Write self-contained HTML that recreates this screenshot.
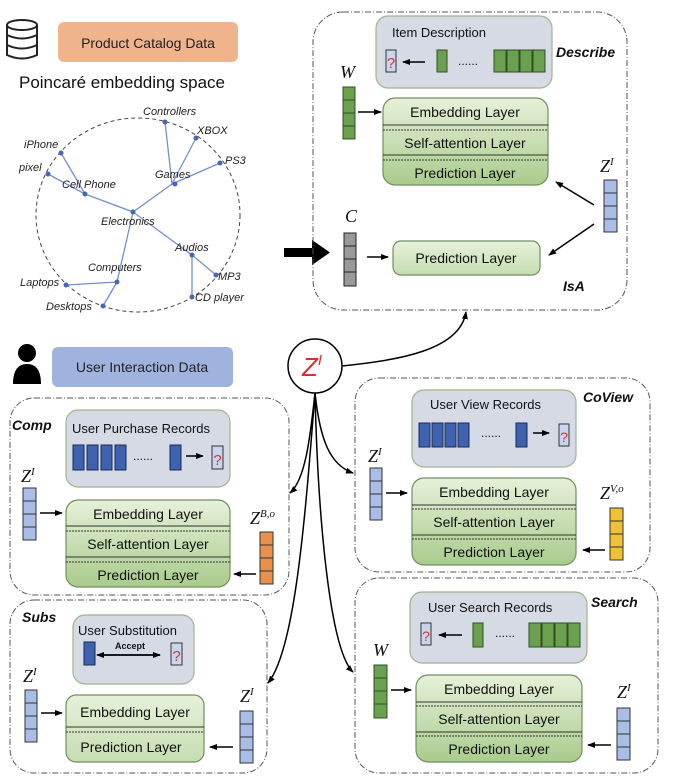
<!DOCTYPE html>
<html><head><meta charset="utf-8"><style>
html,body{margin:0;padding:0;background:#fff;}
svg{display:block;}
text{font-family:"Liberation Sans",sans-serif;}
.it{font-style:italic;font-size:11px;fill:#222;}
.lay{font-size:14px;fill:#111;text-anchor:middle;}
.bi{font-weight:bold;font-style:italic;font-size:14px;fill:#111;}
.z{font-family:"Liberation Serif",serif;font-style:italic;font-size:18px;fill:#111;}
.cont{fill:none;stroke:#555;stroke-width:1;stroke-dasharray:6 2 1 2;}
.gbox{fill:#d6dae4;stroke:#9fb58c;stroke-width:1.2;}
.stk{stroke:#6f8f60;stroke-width:1.2;}
.ln{stroke:#000;stroke-width:1.5;fill:none;}
</style></head><body>
<svg width="675" height="783" viewBox="0 0 675 783" xmlns="http://www.w3.org/2000/svg">
<defs>
<linearGradient id="g" x1="0" y1="0" x2="0" y2="1"><stop offset="0" stop-color="#e6f1d9"/><stop offset="1" stop-color="#a9cb8c"/></linearGradient>
<linearGradient id="gb" x1="0" y1="0" x2="0" y2="1"><stop offset="0" stop-color="#e6f1d9"/><stop offset="1" stop-color="#c5ddb0"/></linearGradient>
<marker id="a" markerWidth="8" markerHeight="8" refX="7" refY="4" orient="auto" markerUnits="userSpaceOnUse"><path d="M0,1 L8,4 L0,7 z" fill="#000"/></marker>
</defs>

<!-- DB icon -->
<g fill="none" stroke="#222" stroke-width="2">
<ellipse cx="22" cy="25" rx="15" ry="5"/>
<path d="M7,25 V55 Q22,62 37,55 V25 M7,35 Q22,42 37,35 M7,45 Q22,52 37,45"/>
</g>
<rect x="58" y="22" width="180" height="40" rx="6" fill="#efb48c"/>
<text x="148" y="48" font-size="14" text-anchor="middle" fill="#222">Product  Catalog  Data</text>
<text x="122" y="88" font-size="17" text-anchor="middle" fill="#111">Poincaré embedding space</text>

<!-- Poincare -->
<ellipse cx="138" cy="215" rx="102" ry="97" fill="none" stroke="#444" stroke-dasharray="4 3"/>
<g stroke="#7390cc" stroke-width="1.3" fill="none">
<path d="M165,122 L172,184 L196,138 M172,184 L220,163 M172,184 L133,212 L85,194 L61,153 M85,194 L48,174 M133,212 L192,255 L216,275 M192,255 L192,297 M133,212 L117,282 L66,285 M117,282 L103,306"/>
</g>
<g fill="#4a66b0">
<circle cx="165" cy="122" r="2.5"/><circle cx="196" cy="138" r="2.5"/><circle cx="220" cy="163" r="2.5"/><circle cx="175" cy="184" r="2.5"/><circle cx="61" cy="153" r="2.5"/><circle cx="48" cy="174" r="2.5"/><circle cx="85" cy="194" r="2.5"/><circle cx="133" cy="212" r="2.5"/><circle cx="192" cy="255" r="2.5"/><circle cx="216" cy="275" r="2.5"/><circle cx="192" cy="297" r="2.5"/><circle cx="117" cy="282" r="2.5"/><circle cx="66" cy="285" r="2.5"/><circle cx="103" cy="306" r="2.5"/>
</g>
<text class="it" x="143" y="115">Controllers</text>
<text class="it" x="197" y="134">XBOX</text>
<text class="it" x="225" y="164">PS3</text>
<text class="it" x="155" y="178">Games</text>
<text class="it" x="24" y="148">iPhone</text>
<text class="it" x="19" y="171">pixel</text>
<text class="it" x="62" y="188">Cell Phone</text>
<text class="it" x="101" y="225">Electronics</text>
<text class="it" x="175" y="251">Audios</text>
<text class="it" x="218" y="280">MP3</text>
<text class="it" x="195" y="301">CD player</text>
<text class="it" x="88" y="271">Computers</text>
<text class="it" x="20" y="286">Laptops</text>
<text class="it" x="46" y="310">Desktops</text>

<!-- big arrow -->
<rect x="284" y="248" width="30" height="9" fill="#000"/>
<path d="M312,240 L330,252.5 L312,265 z" fill="#000"/>

<!-- top right container -->
<rect class="cont" x="313" y="12" width="314" height="298" rx="30"/>
<rect class="gbox" x="376" y="16" width="176" height="72" rx="12"/>
<text x="392" y="37" font-size="13" fill="#111">Item  Description</text>
<rect x="386" y="50" width="10" height="22" fill="#c9d4ef" stroke="#333"/><text x="391" y="68" font-size="15" fill="#e03030" text-anchor="middle">?</text>
<line class="ln" x1="425" y1="62" x2="403" y2="62" marker-end="url(#a)"/>
<rect x="437" y="50" width="10" height="22" fill="#6aa050" stroke="#2f4f20"/>
<text x="458" y="65" font-size="12" fill="#111">......</text>
<g fill="#6aa050" stroke="#2f4f20"><rect x="494" y="50" width="12" height="22"/><rect x="507" y="50" width="12" height="22"/><rect x="520" y="50" width="12" height="22"/><rect x="533" y="50" width="12" height="22"/></g>
<text class="bi" x="556" y="57">Describe</text>
<text class="z" x="340" y="78">W</text>
<g fill="#6aa050" stroke="#2f4f20"><rect x="343" y="87" width="12" height="13"/><rect x="343" y="100" width="12" height="13"/><rect x="343" y="113" width="12" height="13"/><rect x="343" y="126" width="12" height="13"/></g>
<line class="ln" x1="358" y1="112" x2="381" y2="112" marker-end="url(#a)"/>
<rect class="stk" x="383" y="98" width="165" height="87" rx="12" fill="url(#g)"/>
<g stroke="#333"><line x1="383" y1="125" x2="548" y2="125"/><line x1="383" y1="130" x2="548" y2="130" stroke-dasharray="2 1"/><line x1="383" y1="155" x2="548" y2="155"/><line x1="383" y1="160" x2="548" y2="160" stroke-dasharray="2 1"/></g>
<text class="lay" x="465" y="117">Embedding Layer</text>
<text class="lay" x="465" y="148">Self-attention Layer</text>
<text class="lay" x="465" y="178">Prediction Layer</text>
<text class="z" x="600" y="172">Z<tspan font-size="11" dy="-7">I</tspan></text>
<g fill="#a9bde6" stroke="#333"><rect x="604" y="180" width="13" height="13"/><rect x="604" y="193" width="13" height="13"/><rect x="604" y="206" width="13" height="13"/><rect x="604" y="219" width="13" height="13"/></g>
<line class="ln" x1="594" y1="205" x2="556" y2="182" marker-end="url(#a)"/>
<line class="ln" x1="594" y1="224" x2="549" y2="255" marker-end="url(#a)"/>
<text class="z" x="345" y="222">C</text>
<g fill="#999" stroke="#222"><rect x="344" y="233" width="12" height="13"/><rect x="344" y="246" width="12" height="13"/><rect x="344" y="259" width="12" height="13"/><rect x="344" y="272" width="12" height="14"/></g>
<line class="ln" x1="367" y1="257" x2="388" y2="257" marker-end="url(#a)"/>
<rect class="stk" x="393" y="241" width="147" height="34" rx="8" fill="url(#gb)"/>
<text class="lay" x="466" y="263" font-size="15">Prediction Layer</text>
<text class="bi" x="563" y="291">IsA</text>

<!-- User interaction -->
<circle cx="27" cy="353" r="9" fill="#000"/>
<path d="M13,384 Q13,364 27,364 Q41,364 41,384 z" fill="#000"/>
<rect x="52" y="347" width="181" height="40" rx="6" fill="#9fb3de"/>
<text x="142" y="372" font-size="14" text-anchor="middle" fill="#222">User  Interaction  Data</text>

<!-- Z circle + curves -->
<path class="ln" d="M342,366 C400,360 460,350 466,312" marker-end="url(#a)"/>
<path class="ln" d="M315,393 C310,440 305,480 290,493" marker-end="url(#a)"/>
<path class="ln" d="M315,393 C305,520 295,650 268,683" marker-end="url(#a)"/>
<path class="ln" d="M315,393 C320,440 330,465 353,473" marker-end="url(#a)"/>
<path class="ln" d="M315,393 C318,520 330,650 353,672" marker-end="url(#a)"/>
<circle cx="315" cy="366" r="27" fill="#fff" stroke="#000" stroke-width="1.5"/>
<text x="312" y="376" font-family="Liberation Serif,serif" font-style="italic" font-size="26" fill="#d83030" text-anchor="middle">Z<tspan font-size="15" dy="-11">I</tspan></text>

<!-- Comp -->
<rect class="cont" x="10" y="398" width="279" height="197" rx="24"/>
<text class="bi" x="12" y="430">Comp</text>
<rect class="gbox" x="66" y="410" width="164" height="77" rx="12"/>
<text x="72" y="433" font-size="13" fill="#111">User  Purchase  Records</text>
<g fill="#3f62b0" stroke="#1a2a55"><rect x="73" y="445" width="11" height="25"/><rect x="87" y="445" width="11" height="25"/><rect x="101" y="445" width="11" height="25"/><rect x="115" y="445" width="11" height="25"/><rect x="170" y="445" width="11" height="25"/></g>
<text x="133" y="460" font-size="12" fill="#111">......</text>
<line class="ln" x1="186" y1="456" x2="203" y2="456" marker-end="url(#a)"/>
<rect x="212" y="446" width="11" height="23" fill="#c9d4ef" stroke="#333"/><text x="217.5" y="465" font-size="15" fill="#e03030" text-anchor="middle">?</text>
<text class="z" x="21" y="482">Z<tspan font-size="11" dy="-7">I</tspan></text>
<g fill="#a9bde6" stroke="#333"><rect x="23" y="488" width="13" height="13"/><rect x="23" y="501" width="13" height="13"/><rect x="23" y="514" width="13" height="13"/><rect x="23" y="527" width="13" height="13"/></g>
<line class="ln" x1="40" y1="513" x2="62" y2="513" marker-end="url(#a)"/>
<rect class="stk" x="66" y="500" width="164" height="87" rx="12" fill="url(#g)"/>
<g stroke="#333"><line x1="66" y1="526" x2="230" y2="526"/><line x1="66" y1="531" x2="230" y2="531" stroke-dasharray="2 1"/><line x1="66" y1="557" x2="230" y2="557"/><line x1="66" y1="562" x2="230" y2="562" stroke-dasharray="2 1"/></g>
<text class="lay" x="148" y="519">Embedding Layer</text>
<text class="lay" x="148" y="549">Self-attention Layer</text>
<text class="lay" x="148" y="580">Prediction Layer</text>
<text class="z" x="250" y="524">Z<tspan font-size="11" dy="-7">B,o</tspan></text>
<g fill="#e9904a" stroke="#333"><rect x="260" y="532" width="13" height="13"/><rect x="260" y="545" width="13" height="13"/><rect x="260" y="558" width="13" height="13"/><rect x="260" y="571" width="13" height="13"/></g>
<line class="ln" x1="256" y1="574" x2="234" y2="574" marker-end="url(#a)"/>

<!-- Subs -->
<rect class="cont" x="10" y="600" width="257" height="173" rx="24"/>
<text class="bi" x="22" y="622">Subs</text>
<rect class="gbox" x="73" y="615" width="121" height="69" rx="12"/>
<text x="78" y="635" font-size="13" fill="#111">User  Substitution</text>
<text x="115" y="649" font-size="9" font-weight="bold" fill="#111">Accept</text>
<rect x="84" y="642" width="11" height="23" fill="#3f62b0" stroke="#1a2a55"/>
<rect x="171" y="643" width="11" height="22" fill="#c9d4ef" stroke="#333"/><text x="176.5" y="661" font-size="15" fill="#e03030" text-anchor="middle">?</text>
<line class="ln" x1="104" y1="655" x2="160" y2="655" stroke-width="1.2" marker-end="url(#a)"/>
<line class="ln" x1="160" y1="655" x2="97" y2="655" stroke-width="1.2" marker-end="url(#a)"/>
<text class="z" x="23" y="682">Z<tspan font-size="11" dy="-7">I</tspan></text>
<g fill="#a9bde6" stroke="#333"><rect x="25" y="690" width="12" height="13"/><rect x="25" y="703" width="12" height="13"/><rect x="25" y="716" width="12" height="13"/><rect x="25" y="729" width="12" height="13"/></g>
<line class="ln" x1="41" y1="713" x2="62" y2="713" marker-end="url(#a)"/>
<rect class="stk" x="66" y="695" width="138" height="67" rx="10" fill="url(#gb)"/>
<g stroke="#333"><line x1="66" y1="727" x2="204" y2="727"/><line x1="66" y1="732" x2="204" y2="732" stroke-dasharray="2 1"/></g>
<text class="lay" x="135" y="717">Embedding Layer</text>
<text class="lay" x="131" y="752">Prediction Layer</text>
<text class="z" x="240" y="702">Z<tspan font-size="11" dy="-7">I</tspan></text>
<g fill="#a9bde6" stroke="#333"><rect x="240" y="711" width="13" height="13"/><rect x="240" y="724" width="13" height="13"/><rect x="240" y="737" width="13" height="13"/><rect x="240" y="750" width="13" height="13"/></g>
<line class="ln" x1="233" y1="747" x2="210" y2="747" marker-end="url(#a)"/>

<!-- CoView -->
<rect class="cont" x="355" y="378" width="295" height="194" rx="24"/>
<text class="bi" x="583" y="402">CoView</text>
<rect class="gbox" x="412" y="390" width="164" height="77" rx="12"/>
<text x="430" y="409" font-size="13" fill="#111">User  View  Records</text>
<g fill="#3f62b0" stroke="#1a2a55"><rect x="419" y="423" width="11" height="24"/><rect x="432" y="423" width="11" height="24"/><rect x="445" y="423" width="11" height="24"/><rect x="458" y="423" width="11" height="24"/><rect x="516" y="423" width="11" height="24"/></g>
<text x="481" y="437" font-size="12" fill="#111">......</text>
<line class="ln" x1="533" y1="433" x2="549" y2="433" marker-end="url(#a)"/>
<rect x="559" y="424" width="10" height="22" fill="#c9d4ef" stroke="#333"/><text x="564" y="442" font-size="14" fill="#e03030" text-anchor="middle">?</text>
<text class="z" x="368" y="462">Z<tspan font-size="11" dy="-7">I</tspan></text>
<g fill="#a9bde6" stroke="#333"><rect x="370" y="468" width="12" height="13"/><rect x="370" y="481" width="12" height="13"/><rect x="370" y="494" width="12" height="13"/><rect x="370" y="507" width="12" height="13"/></g>
<line class="ln" x1="386" y1="493" x2="407" y2="493" marker-end="url(#a)"/>
<rect class="stk" x="412" y="478" width="164" height="87" rx="12" fill="url(#g)"/>
<g stroke="#333"><line x1="412" y1="505" x2="576" y2="505"/><line x1="412" y1="509" x2="576" y2="509" stroke-dasharray="2 1"/><line x1="412" y1="535" x2="576" y2="535"/><line x1="412" y1="539" x2="576" y2="539" stroke-dasharray="2 1"/></g>
<text class="lay" x="494" y="497">Embedding Layer</text>
<text class="lay" x="494" y="527">Self-attention Layer</text>
<text class="lay" x="494" y="557">Prediction Layer</text>
<text class="z" x="600" y="499">Z<tspan font-size="11" dy="-7">V,o</tspan></text>
<g fill="#f0c233" stroke="#333"><rect x="610" y="508" width="13" height="13"/><rect x="610" y="521" width="13" height="13"/><rect x="610" y="534" width="13" height="13"/><rect x="610" y="547" width="13" height="13"/></g>
<line class="ln" x1="605" y1="550" x2="583" y2="550" marker-end="url(#a)"/>

<!-- Search -->
<rect class="cont" x="355" y="578" width="303" height="195" rx="24"/>
<text class="bi" x="591" y="607">Search</text>
<rect class="gbox" x="410" y="592" width="177" height="71" rx="12"/>
<text x="428" y="612" font-size="13" fill="#111">User  Search  Records</text>
<rect x="421" y="623" width="10" height="22" fill="#c9d4ef" stroke="#333"/><text x="426" y="641" font-size="14" fill="#e03030" text-anchor="middle">?</text>
<line class="ln" x1="462" y1="635" x2="439" y2="635" marker-end="url(#a)"/>
<rect x="473" y="623" width="10" height="24" fill="#6aa050" stroke="#2f4f20"/>
<text x="495" y="637" font-size="12" fill="#111">......</text>
<g fill="#6aa050" stroke="#2f4f20"><rect x="529" y="623" width="12" height="24"/><rect x="542" y="623" width="12" height="24"/><rect x="555" y="623" width="12" height="24"/><rect x="568" y="623" width="12" height="24"/></g>
<text class="z" x="373" y="656">W</text>
<g fill="#6aa050" stroke="#2f4f20"><rect x="374" y="665" width="13" height="13"/><rect x="374" y="678" width="13" height="13"/><rect x="374" y="691" width="13" height="13"/><rect x="374" y="704" width="13" height="14"/></g>
<line class="ln" x1="391" y1="690" x2="411" y2="690" marker-end="url(#a)"/>
<rect class="stk" x="416" y="675" width="166" height="87" rx="12" fill="url(#g)"/>
<g stroke="#333"><line x1="416" y1="702" x2="582" y2="702"/><line x1="416" y1="706" x2="582" y2="706" stroke-dasharray="2 1"/><line x1="416" y1="732" x2="582" y2="732"/><line x1="416" y1="736" x2="582" y2="736" stroke-dasharray="2 1"/></g>
<text class="lay" x="499" y="694">Embedding Layer</text>
<text class="lay" x="499" y="724">Self-attention Layer</text>
<text class="lay" x="499" y="754">Prediction Layer</text>
<text class="z" x="617" y="698">Z<tspan font-size="11" dy="-7">I</tspan></text>
<g fill="#a9bde6" stroke="#333"><rect x="617" y="708" width="13" height="13"/><rect x="617" y="721" width="13" height="13"/><rect x="617" y="734" width="13" height="13"/><rect x="617" y="747" width="13" height="13"/></g>
<line class="ln" x1="611" y1="745" x2="588" y2="745" marker-end="url(#a)"/>
</svg>
</body></html>
